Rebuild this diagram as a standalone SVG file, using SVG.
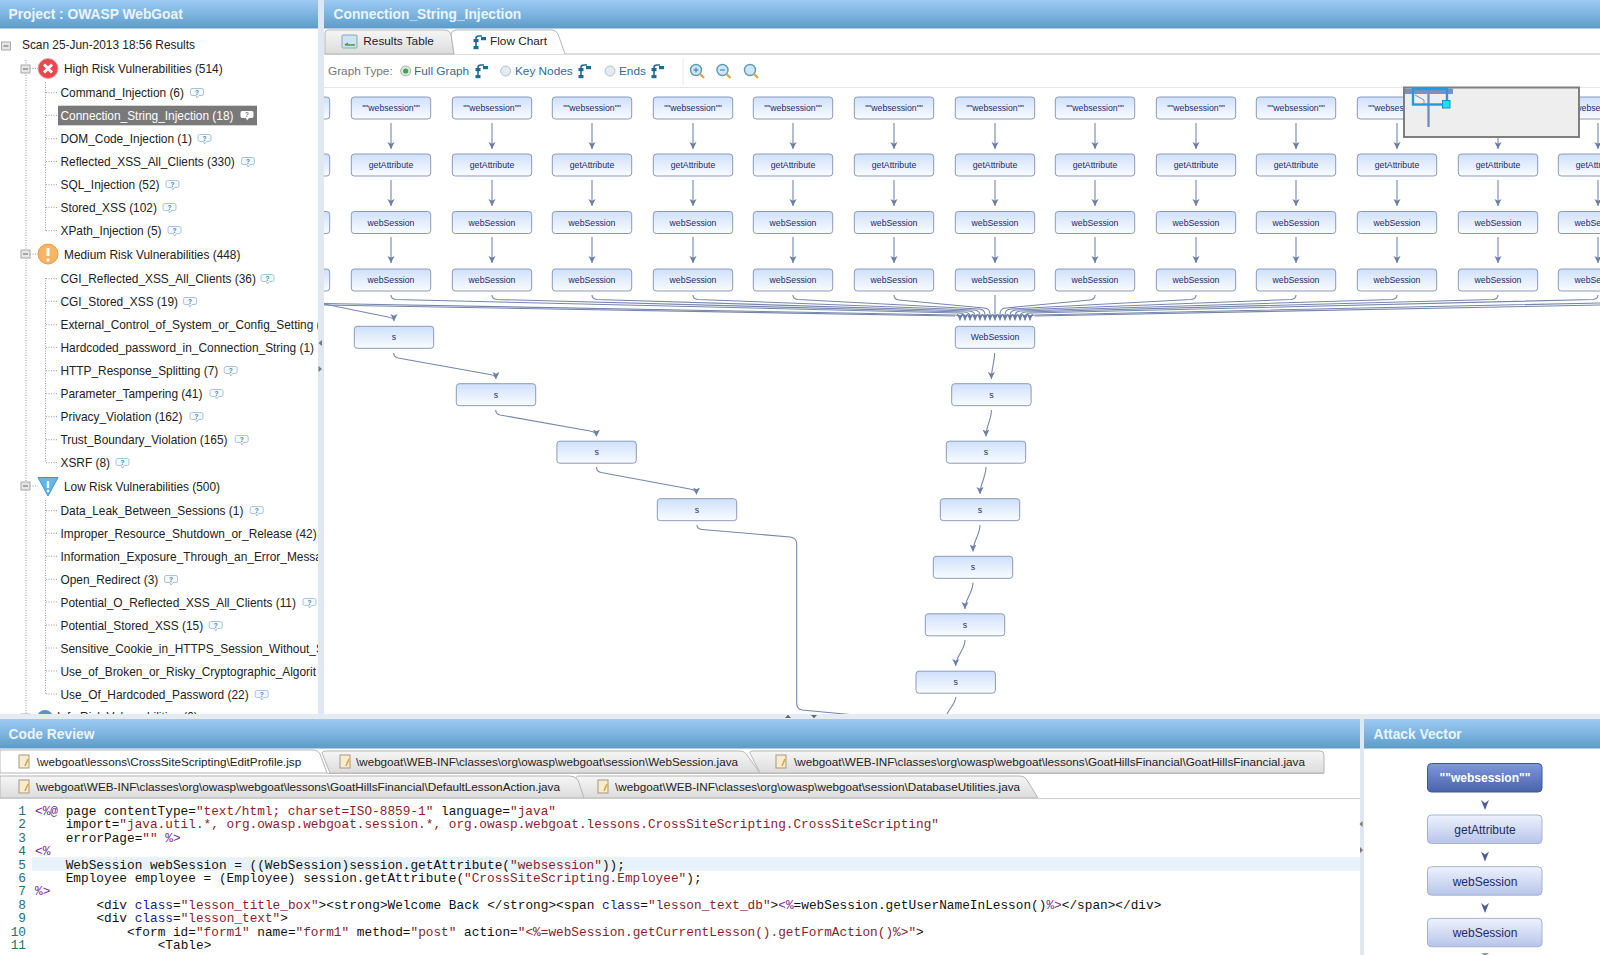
<svg xmlns="http://www.w3.org/2000/svg" width="1600" height="955" viewBox="0 0 1600 955">
<style>
text{font-family:"Liberation Sans",Arial,sans-serif}
.hd{font-size:13.8px;font-weight:bold;fill:#eaf3fb}
.t{font-size:11.88px;fill:#222}
.n{font-size:8.7px;fill:#1f2a66;text-anchor:middle}
.box{fill:url(#ng);stroke:#8a9ab8;stroke-width:1}
.c{fill:none;stroke:#7687ac;stroke-width:1.1}
.a{marker-end:url(#ah)}
.d{fill:none;stroke:#999;stroke-width:1;stroke-dasharray:1 1.5}
.tb{font-size:11.8px;fill:#2f6b9e}
.ln{font-family:"Liberation Mono",monospace;font-size:12.8px;fill:#1d6f78;text-anchor:end}
.k{font-family:"Liberation Mono",monospace;font-size:12.78px;fill:#111}
.s{fill:#8c1c2c}.p{fill:#7b2a90}.g{fill:#1a1a8c}
.ft{font-size:11px;fill:#222}
.av{fill:url(#avg);stroke:#a4b2d2}
.avt{font-size:12px;fill:#1f2a66;text-anchor:middle}
.tab{fill:url(#tg);stroke:#b5b5b5}
</style>
<defs>
<linearGradient id="hg" x1="0" y1="0" x2="0" y2="1"><stop offset="0" stop-color="#9ccbf3"/><stop offset=".5" stop-color="#7db4e0"/><stop offset="1" stop-color="#5c9bc8"/></linearGradient>
<linearGradient id="ng" x1="0" y1="0" x2="0" y2="1"><stop offset="0" stop-color="#cfe0fb"/><stop offset="1" stop-color="#fafcff"/></linearGradient>
<linearGradient id="avg" x1="0" y1="0" x2="0" y2="1"><stop offset="0" stop-color="#eef2fd"/><stop offset="1" stop-color="#b7c5ea"/></linearGradient>
<linearGradient id="avd" x1="0" y1="0" x2="0" y2="1"><stop offset="0" stop-color="#7f98dc"/><stop offset="1" stop-color="#4a62aa"/></linearGradient>
<linearGradient id="tg" x1="0" y1="0" x2="0" y2="1"><stop offset="0" stop-color="#f6f6f6"/><stop offset="1" stop-color="#dcdcdc"/></linearGradient>
<marker id="ah" markerUnits="userSpaceOnUse" markerWidth="8" markerHeight="8" refX="7" refY="4" orient="auto"><path d="M0,0.5 L7,4 L0,7.5 L1.8,4 Z" fill="#6c7da6"/></marker>
<rect id="box" class="box" x="-39.7" y="0" width="79.4" height="22" rx="3"/>
<g id="help"><path d="M-5,-4 H5 Q6.5,-4 6.5,-2 V1 Q6.5,3 5,3 H2 L0,5.5 L-1,3 H-5 Q-6.5,3 -6.5,1 V-2 Q-6.5,-4 -5,-4 Z" fill="#f4f9fd" stroke="#a9c3da" stroke-width="1"/><text x="0" y="2" font-size="6.5" font-weight="bold" fill="#3f7fb5" text-anchor="middle">?</text></g>
<g id="hw"><path d="M-5,-4 H5 Q6.5,-4 6.5,-2 V1 Q6.5,3 5,3 H2 L0,5.5 L-1,3 H-5 Q-6.5,3 -6.5,1 V-2 Q-6.5,-4 -5,-4 Z" fill="#fff"/><text x="0" y="2" font-size="6.5" font-weight="bold" fill="#777" text-anchor="middle">?</text></g>
<g id="fl"><path d="M-3,7 V-3.5 Q-3,-6 0,-6 H3" fill="none" stroke="#1b6b97" stroke-width="1.6"/><rect x="-5.5" y="-3" width="5" height="3.2" fill="#1b6b97"/><rect x="-5.5" y="4" width="5" height="3.2" fill="#1b6b97"/><rect x="2" y="-5" width="5" height="3.2" fill="#1b6b97"/></g>
<g id="mag"><circle r="5.5" fill="#cfe6f7" stroke="#5e9bb0" stroke-width="1.4"/><path d="M4,4 L8,8" stroke="#e3a64a" stroke-width="2.4"/></g>
<g id="doc"><rect x="0" y="0" width="10" height="13" fill="#f5ecd2" stroke="#a79a7d"/><path d="M6,11 L9,4" stroke="#e0a23c" stroke-width="1.6"/></g>
<g id="mn"><rect x="-4.5" y="-4" width="9" height="8" fill="#e6e6e6" stroke="#aaa"/><path d="M-2.5,0 H2.5" stroke="#666"/></g>
<clipPath id="gc"><rect x="324" y="88" width="1276" height="626"/></clipPath>
<clipPath id="tc"><rect x="0" y="29" width="318" height="685"/></clipPath>
<clipPath id="cc"><rect x="0" y="799" width="1360" height="156"/></clipPath>
</defs>

<rect width="1600" height="955" fill="#fff"/>

<g id="left-panel">
<rect x="0" y="0" width="318" height="28.5" fill="url(#hg)"/>
<text class="hd" x="8.5" y="19">Project : OWASP WebGoat</text>
<rect x="318" y="0" width="6" height="714" fill="#dfe7f0"/>
<path d="M322,340 L318.5,343 L322,346 Z M318.5,366 L322,369 L318.5,372 Z" fill="#777"/>
</g>

<g id="tree" clip-path="url(#tc)">
<path class="d" d="M26,46 H30 M26,60 V714 M30,68.5 H38 M30,254 H38 M30,486 H38"/>
<path class="d" d="M45.5,82 V230.7 M45.5,278 V462.7 M45.5,500 V694"/>
<path class="d" d="M46,92.7 H57 M46,115.3 H57 M46,138.7 H57 M46,161.5 H57 M46,184.7 H57 M46,207.3 H57 M46,230.7 H57 M46,278.7 H57 M46,301.3 H57 M46,324.7 H57 M46,347.3 H57 M46,370.7 H57 M46,393.7 H57 M46,416.7 H57 M46,439.7 H57 M46,462.7 H57 M46,510.7 H57 M46,533.3 H57 M46,556.3 H57 M46,579.3 H57 M46,602 H57 M46,625 H57 M46,648 H57 M46,671 H57 M46,694 H57"/>
<use href="#mn" x="6" y="46"/><use href="#mn" x="25.5" y="69"/><use href="#mn" x="25.5" y="254"/><use href="#mn" x="25.5" y="486"/>
<text class="t" x="22" y="49">Scan 25-Jun-2013 18:56 Results</text>
<g id="icon-high"><circle cx="48" cy="68.5" r="10" fill="#e5484d" stroke="#f0a0a0"/><path d="M44,64.5 L52,72.5 M52,64.5 L44,72.5" stroke="#fff" stroke-width="3"/></g>
<text class="t" x="64" y="73">High Risk Vulnerabilities (514)</text>
<text class="t" x="60.5" y="97">Command_Injection (6)</text><use href="#help" x="197" y="92.5"/>
<rect x="58" y="105.7" width="199" height="19.6" fill="#797979"/>
<text class="t" x="60.5" y="119.6" style="fill:#fff">Connection_String_Injection (18)</text><use href="#hw" x="247" y="115"/>
<text class="t" x="60.5" y="143">DOM_Code_Injection (1)</text><use href="#help" x="204.5" y="138.5"/>
<text class="t" x="60.5" y="166">Reflected_XSS_All_Clients (330)</text><use href="#help" x="248" y="161.5"/>
<text class="t" x="60.5" y="189">SQL_Injection (52)</text><use href="#help" x="172.5" y="184.5"/>
<text class="t" x="60.5" y="212">Stored_XSS (102)</text><use href="#help" x="169.5" y="207.5"/>
<text class="t" x="60.5" y="235">XPath_Injection (5)</text><use href="#help" x="174.5" y="230.5"/>
<g id="icon-med"><circle cx="48" cy="254" r="10" fill="#f5b565" stroke="#e89a3c"/><path d="M48,248 V256" stroke="#fff" stroke-width="3"/><circle cx="48" cy="260" r="1.6" fill="#fff"/></g>
<text class="t" x="64" y="258.5">Medium Risk Vulnerabilities (448)</text>
<text class="t" x="60.5" y="283">CGI_Reflected_XSS_All_Clients (36)</text><use href="#help" x="267.5" y="278.5"/>
<text class="t" x="60.5" y="306">CGI_Stored_XSS (19)</text><use href="#help" x="190" y="301.5"/>
<text class="t" x="60.5" y="329">External_Control_of_System_or_Config_Setting (</text>
<text class="t" x="60.5" y="352">Hardcoded_password_in_Connection_String (1)</text>
<text class="t" x="60.5" y="375">HTTP_Response_Splitting (7)</text><use href="#help" x="230.7" y="370.5"/>
<text class="t" x="60.5" y="398">Parameter_Tampering (41)</text><use href="#help" x="216.5" y="393.5"/>
<text class="t" x="60.5" y="421">Privacy_Violation (162)</text><use href="#help" x="196.5" y="416.5"/>
<text class="t" x="60.5" y="444">Trust_Boundary_Violation (165)</text><use href="#help" x="241.7" y="439.5"/>
<text class="t" x="60.5" y="467">XSRF (8)</text><use href="#help" x="122.5" y="462.5"/>
<g id="icon-low"><path d="M38,477.5 H58 L48,496 Z" fill="#5fb8e8" stroke="#3d97cf" stroke-linejoin="round"/><path d="M48,481 V488" stroke="#fff" stroke-width="2.4"/><circle cx="48" cy="491" r="1.2" fill="#fff"/></g>
<text class="t" x="64" y="491">Low Risk Vulnerabilities (500)</text>
<text class="t" x="60.5" y="515">Data_Leak_Between_Sessions (1)</text><use href="#help" x="256.7" y="510.5"/>
<text class="t" x="60.5" y="538">Improper_Resource_Shutdown_or_Release (42)</text>
<text class="t" x="60.5" y="561">Information_Exposure_Through_an_Error_Messa</text>
<text class="t" x="60.5" y="584">Open_Redirect (3)</text><use href="#help" x="171" y="579.5"/>
<text class="t" x="60.5" y="607">Potential_O_Reflected_XSS_All_Clients (11)</text><use href="#help" x="309.5" y="602.5"/>
<text class="t" x="60.5" y="630">Potential_Stored_XSS (15)</text><use href="#help" x="215.7" y="625.5"/>
<text class="t" x="60.5" y="653">Sensitive_Cookie_in_HTTPS_Session_Without_S</text>
<text class="t" x="60.5" y="676">Use_of_Broken_or_Risky_Cryptographic_Algorit</text>
<text class="t" x="60.5" y="699">Use_Of_Hardcoded_Password (22)</text><use href="#help" x="261.7" y="694.5"/>
<circle cx="45" cy="718" r="8" fill="#5f8fc8"/>
<text class="t" x="57" y="721">Info Risk Vulnerabilities (0)</text>
<use href="#mn" x="25.5" y="718"/>
</g>

<g id="main-header">
<rect x="324" y="0" width="1276" height="28.5" fill="url(#hg)"/>
<text class="hd" x="333.5" y="19">Connection_String_Injection</text>
<path d="M324,54 H1600" stroke="#bbb"/>
<path class="tab" d="M325,54 V33 Q325,30 328,30 H445 Q449,30 451,34 L454,54 Z"/>
<rect x="342" y="35" width="15" height="13" rx="1" fill="#cfe3f2" stroke="#8aa"/><path d="M345,45 H355 M345,45 L348,43" stroke="#4a9a4a" stroke-width="1.5"/>
<text x="363.3" y="45" font-size="11.8" fill="#222">Results Table</text>
<path d="M454,54 L451,34 Q452,30 456,30 H552 Q556,30 558,34 L565,54" fill="#fff" stroke="#b5b5b5"/>
<use href="#fl" x="479" y="42"/>
<text x="490" y="45" font-size="11.8" fill="#222">Flow Chart</text>
<path d="M324,87.5 H1600" stroke="#e4e4e4"/>
<path d="M683,59 V85" stroke="#e6e6e6"/>
<text x="328" y="75" font-size="11.8" fill="#777">Graph Type:</text>
<circle cx="405.7" cy="71" r="5" fill="#dfe8e0" stroke="#9fb3a4"/><circle cx="405.7" cy="71" r="2.6" fill="#3aa24a"/>
<text class="tb" x="414" y="75">Full Graph</text><use href="#fl" x="481" y="71"/>
<circle cx="505.7" cy="71" r="5" fill="#e4ebf2" stroke="#b4c2d0"/>
<text class="tb" x="515" y="75">Key Nodes</text><use href="#fl" x="584" y="71"/>
<circle cx="610" cy="71" r="5" fill="#e4ebf2" stroke="#b4c2d0"/>
<text class="tb" x="619" y="75">Ends</text><use href="#fl" x="657" y="71"/>
<use href="#mag" x="696" y="70"/><path d="M693.5,70 H698.5 M696,67.5 V72.5" stroke="#2a7aa8"/>
<use href="#mag" x="722.5" y="70"/><path d="M720,70 H725" stroke="#2a7aa8"/>
<use href="#mag" x="750" y="70"/>
</g>

<g id="connectors" clip-path="url(#gc)">
<path class="c a" d="M391,123 V149"/><path class="c a" d="M492,123 V149"/><path class="c a" d="M592,123 V149"/><path class="c a" d="M693,123 V149"/><path class="c a" d="M793,123 V149"/><path class="c a" d="M894,123 V149"/><path class="c a" d="M995,123 V149"/><path class="c a" d="M1095,123 V149"/><path class="c a" d="M1196,123 V149"/><path class="c a" d="M1296,123 V149"/><path class="c a" d="M1397,123 V149"/><path class="c a" d="M1498,123 V149"/><path class="c a" d="M1598,123 V149"/>
<path class="c a" d="M391,180 V206"/><path class="c a" d="M492,180 V206"/><path class="c a" d="M592,180 V206"/><path class="c a" d="M693,180 V206"/><path class="c a" d="M793,180 V206"/><path class="c a" d="M894,180 V206"/><path class="c a" d="M995,180 V206"/><path class="c a" d="M1095,180 V206"/><path class="c a" d="M1196,180 V206"/><path class="c a" d="M1296,180 V206"/><path class="c a" d="M1397,180 V206"/><path class="c a" d="M1498,180 V206"/><path class="c a" d="M1598,180 V206"/>
<path class="c a" d="M391,237 V263"/><path class="c a" d="M492,237 V263"/><path class="c a" d="M592,237 V263"/><path class="c a" d="M693,237 V263"/><path class="c a" d="M793,237 V263"/><path class="c a" d="M894,237 V263"/><path class="c a" d="M995,237 V263"/><path class="c a" d="M1095,237 V263"/><path class="c a" d="M1196,237 V263"/><path class="c a" d="M1296,237 V263"/><path class="c a" d="M1397,237 V263"/><path class="c a" d="M1498,237 V263"/><path class="c a" d="M1598,237 V263"/>
<path class="c a" d="M324,303.5 L954,315 Q960,315.2 960,318 V320.5"/>
<path class="c" d="M324,305 L955,316"/>
<path class="c a" d="M391,295 Q391,299 396,299.5 L959,313 Q965,313.3 965,317 V320.5"/>
<path class="c a" d="M492,295 Q492,299 497,299.5 L964,312 Q970,312.3 970,316.5 V320.5"/>
<path class="c a" d="M592,295 Q592,299 597,299.5 L969,311 Q975,311.3 975,316 V320.5"/>
<path class="c a" d="M693,295 Q693,299 698,299.5 L974,310 Q980,310.3 980,315.5 V320.5"/>
<path class="c a" d="M793,295 Q793,299 798,299.5 L979,309 Q985,309.3 985,315 V320.5"/>
<path class="c a" d="M894,295 Q894,299.5 899,300 L984,308 Q990,308.5 990,314 V320.5"/>
<path class="c a" d="M995,295 V320.5"/>
<path class="c a" d="M1095,295 Q1095,299.5 1090,300 L1006,308 Q1000,308.5 1000,314 V320.5"/>
<path class="c a" d="M1196,295 Q1196,299 1191,299.5 L1011,309 Q1005,309.3 1005,315 V320.5"/>
<path class="c a" d="M1296,295 Q1296,299 1291,299.5 L1016,310 Q1010,310.3 1010,315.5 V320.5"/>
<path class="c a" d="M1397,295 Q1397,299 1392,299.5 L1021,311 Q1015,311.3 1015,316 V320.5"/>
<path class="c a" d="M1498,295 Q1498,299 1493,299.5 L1026,312 Q1020,312.3 1020,316.5 V320.5"/>
<path class="c a" d="M1598,295 Q1598,299 1593,299.5 L1031,313 Q1025,313.3 1025,317 V320.5"/>
<path class="c a" d="M1600,303 L1036,315 Q1030,315.2 1030,318 V320.5"/>
<path class="c" d="M1600,305 L1035,316"/>
<path class="c a" d="M324,304 L388,317 Q394,318 394,321"/>
<path class="c a" d="M393.7,353 Q393.7,357 398,358 L490,374.5 Q496,375.5 496,379"/>
<path class="c a" d="M495.7,410 Q495.7,414 500,415 L590,431 Q596.5,432 596.5,436.5"/>
<path class="c a" d="M596.5,467 Q596.5,471.5 601,472.5 L690,489 Q696.5,490 696.5,494.5"/>
<path class="c" d="M697,525 Q697,529 702,529.5 L790,537 Q796.7,538 796.7,544 V703 Q796.7,709 802,710 L850,714.5"/>
<path class="c a" d="M994.6,353 C994.6,362 991.4,368 991.4,379"/>
<path class="c a" d="M991.4,410 C991.4,420 986,426 986,436.5"/>
<path class="c a" d="M986,467 C986,477 980,484 980,494"/>
<path class="c a" d="M980,525 C980,535 973,541 973,551.5"/>
<path class="c a" d="M973,582.5 C973,593 965,599 965,609"/>
<path class="c a" d="M965,640 C965,650 955.7,656 955.7,666"/>
<path class="c" d="M955.7,697 C955.7,703 950,708 947,714"/>
</g>

<g id="nodes" clip-path="url(#gc)">
<g id="n0-1"><use href="#box" x="290" y="97"/></g><g id="n0-2"><use href="#box" x="290" y="154"/></g><g id="n0-3"><use href="#box" x="290" y="211.5"/></g><g id="n0-4"><use href="#box" x="290" y="269"/></g>
<g id="n1-1" transform="translate(391,97)"><use href="#box"/><text class="n" y="14">""websession""</text></g>
<g id="n1-2" transform="translate(391,154)"><use href="#box"/><text class="n" y="14">getAttribute</text></g>
<g id="n1-3" transform="translate(391,211.5)"><use href="#box"/><text class="n" y="14">webSession</text></g>
<g id="n1-4" transform="translate(391,269)"><use href="#box"/><text class="n" y="14">webSession</text></g>
<g id="n2-1" transform="translate(492,97)"><use href="#box"/><text class="n" y="14">""websession""</text></g>
<g id="n2-2" transform="translate(492,154)"><use href="#box"/><text class="n" y="14">getAttribute</text></g>
<g id="n2-3" transform="translate(492,211.5)"><use href="#box"/><text class="n" y="14">webSession</text></g>
<g id="n2-4" transform="translate(492,269)"><use href="#box"/><text class="n" y="14">webSession</text></g>
<g id="n3-1" transform="translate(592,97)"><use href="#box"/><text class="n" y="14">""websession""</text></g>
<g id="n3-2" transform="translate(592,154)"><use href="#box"/><text class="n" y="14">getAttribute</text></g>
<g id="n3-3" transform="translate(592,211.5)"><use href="#box"/><text class="n" y="14">webSession</text></g>
<g id="n3-4" transform="translate(592,269)"><use href="#box"/><text class="n" y="14">webSession</text></g>
<g id="n4-1" transform="translate(693,97)"><use href="#box"/><text class="n" y="14">""websession""</text></g>
<g id="n4-2" transform="translate(693,154)"><use href="#box"/><text class="n" y="14">getAttribute</text></g>
<g id="n4-3" transform="translate(693,211.5)"><use href="#box"/><text class="n" y="14">webSession</text></g>
<g id="n4-4" transform="translate(693,269)"><use href="#box"/><text class="n" y="14">webSession</text></g>
<g id="n5-1" transform="translate(793,97)"><use href="#box"/><text class="n" y="14">""websession""</text></g>
<g id="n5-2" transform="translate(793,154)"><use href="#box"/><text class="n" y="14">getAttribute</text></g>
<g id="n5-3" transform="translate(793,211.5)"><use href="#box"/><text class="n" y="14">webSession</text></g>
<g id="n5-4" transform="translate(793,269)"><use href="#box"/><text class="n" y="14">webSession</text></g>
<g id="n6-1" transform="translate(894,97)"><use href="#box"/><text class="n" y="14">""websession""</text></g>
<g id="n6-2" transform="translate(894,154)"><use href="#box"/><text class="n" y="14">getAttribute</text></g>
<g id="n6-3" transform="translate(894,211.5)"><use href="#box"/><text class="n" y="14">webSession</text></g>
<g id="n6-4" transform="translate(894,269)"><use href="#box"/><text class="n" y="14">webSession</text></g>
<g id="n7-1" transform="translate(995,97)"><use href="#box"/><text class="n" y="14">""websession""</text></g>
<g id="n7-2" transform="translate(995,154)"><use href="#box"/><text class="n" y="14">getAttribute</text></g>
<g id="n7-3" transform="translate(995,211.5)"><use href="#box"/><text class="n" y="14">webSession</text></g>
<g id="n7-4" transform="translate(995,269)"><use href="#box"/><text class="n" y="14">webSession</text></g>
<g id="n8-1" transform="translate(1095,97)"><use href="#box"/><text class="n" y="14">""websession""</text></g>
<g id="n8-2" transform="translate(1095,154)"><use href="#box"/><text class="n" y="14">getAttribute</text></g>
<g id="n8-3" transform="translate(1095,211.5)"><use href="#box"/><text class="n" y="14">webSession</text></g>
<g id="n8-4" transform="translate(1095,269)"><use href="#box"/><text class="n" y="14">webSession</text></g>
<g id="n9-1" transform="translate(1196,97)"><use href="#box"/><text class="n" y="14">""websession""</text></g>
<g id="n9-2" transform="translate(1196,154)"><use href="#box"/><text class="n" y="14">getAttribute</text></g>
<g id="n9-3" transform="translate(1196,211.5)"><use href="#box"/><text class="n" y="14">webSession</text></g>
<g id="n9-4" transform="translate(1196,269)"><use href="#box"/><text class="n" y="14">webSession</text></g>
<g id="n10-1" transform="translate(1296,97)"><use href="#box"/><text class="n" y="14">""websession""</text></g>
<g id="n10-2" transform="translate(1296,154)"><use href="#box"/><text class="n" y="14">getAttribute</text></g>
<g id="n10-3" transform="translate(1296,211.5)"><use href="#box"/><text class="n" y="14">webSession</text></g>
<g id="n10-4" transform="translate(1296,269)"><use href="#box"/><text class="n" y="14">webSession</text></g>
<g id="n11-1" transform="translate(1397,97)"><use href="#box"/><text class="n" y="14">""websession""</text></g>
<g id="n11-2" transform="translate(1397,154)"><use href="#box"/><text class="n" y="14">getAttribute</text></g>
<g id="n11-3" transform="translate(1397,211.5)"><use href="#box"/><text class="n" y="14">webSession</text></g>
<g id="n11-4" transform="translate(1397,269)"><use href="#box"/><text class="n" y="14">webSession</text></g>
<g id="n12-1" transform="translate(1498,97)"><use href="#box"/><text class="n" y="14">""websession""</text></g>
<g id="n12-2" transform="translate(1498,154)"><use href="#box"/><text class="n" y="14">getAttribute</text></g>
<g id="n12-3" transform="translate(1498,211.5)"><use href="#box"/><text class="n" y="14">webSession</text></g>
<g id="n12-4" transform="translate(1498,269)"><use href="#box"/><text class="n" y="14">webSession</text></g>
<g id="n13-1" transform="translate(1598,97)"><use href="#box"/><text class="n" y="14">""websession""</text></g>
<g id="n13-2" transform="translate(1598,154)"><use href="#box"/><text class="n" y="14">getAttribute</text></g>
<g id="n13-3" transform="translate(1598,211.5)"><use href="#box"/><text class="n" y="14">webSession</text></g>
<g id="n13-4" transform="translate(1598,269)"><use href="#box"/><text class="n" y="14">webSession</text></g>
<g id="ws" transform="translate(995,326.3)"><use href="#box"/><text class="n" y="14">WebSession</text></g>
<g id="sl1" transform="translate(394,326.3)"><use href="#box"/><text class="n" y="14">s</text></g>
<g id="sl2" transform="translate(496,383.7)"><use href="#box"/><text class="n" y="14">s</text></g>
<g id="sl3" transform="translate(596.6,441.2)"><use href="#box"/><text class="n" y="14">s</text></g>
<g id="sl4" transform="translate(697,498.7)"><use href="#box"/><text class="n" y="14">s</text></g>
<g id="sr1" transform="translate(991.4,383.7)"><use href="#box"/><text class="n" y="14">s</text></g>
<g id="sr2" transform="translate(986,441.2)"><use href="#box"/><text class="n" y="14">s</text></g>
<g id="sr3" transform="translate(980,498.7)"><use href="#box"/><text class="n" y="14">s</text></g>
<g id="sr4" transform="translate(973,556.3)"><use href="#box"/><text class="n" y="14">s</text></g>
<g id="sr5" transform="translate(965,613.8)"><use href="#box"/><text class="n" y="14">s</text></g>
<g id="sr6" transform="translate(955.7,671.2)"><use href="#box"/><text class="n" y="14">s</text></g>
</g>

<g id="minimap">
<rect x="1404" y="87.5" width="175" height="49.5" fill="#eee" stroke="#7f7f7f" stroke-width="2"/>
<rect x="1405" y="88.5" width="48" height="5.5" fill="#7b90c0"/>
<path d="M1428.5,94 V127" stroke="#7a8fb8" stroke-width="2.4"/>
<path d="M1415,95 L1424,100 V104" fill="none" stroke="#8090b4"/>
<rect x="1413" y="89" width="34" height="15.5" fill="none" stroke="#1e9be8" stroke-width="2.4"/>
<rect x="1442.5" y="100.5" width="7.5" height="7.5" fill="#19e0f5" stroke="#1e88d0"/>
</g>

<g id="dividers">
<rect x="0" y="714" width="1600" height="5" fill="#e6ebf1"/>
<path d="M785,718 L788,714.8 L791,718 Z M811,715 L814,718.2 L817,715 Z" fill="#666"/>
</g>

<g id="code-review">
<rect x="0" y="719" width="1360" height="29.5" fill="url(#hg)"/>
<text class="hd" x="8.5" y="739">Code Review</text>
<path class="tab" d="M322,753 Q322,751 326,751 H740 Q745,751 747,755 L760,773 H330 Z"/>
<path class="tab" d="M760,773 L750,753 Q749,751 753,751 H1320 Q1324,751 1324,755 V773 Z"/>
<path class="tab" d="M327,773 L320,754 Q318,750 314,750 H0 V773 Z" style="fill:#fff"/>
<path d="M327,773.5 H1324" stroke="#bbb"/>
<path class="tab" d="M582,798 L576,780 Q575,776 579,776 H1020 Q1025,776 1027,780 L1038,798 Z"/>
<path class="tab" d="M0,776 H570 Q575,776 578,780 L584,798 H0 Z"/>
<path d="M0,798.5 H1360" stroke="#ccc"/>
<use href="#doc" x="19" y="755"/><text class="ft" x="36.7" y="766" textLength="264.5" lengthAdjust="spacingAndGlyphs">\webgoat\lessons\CrossSiteScripting\EditProfile.jsp</text>
<use href="#doc" x="340" y="755"/><text class="ft" x="356" y="766" textLength="382" lengthAdjust="spacingAndGlyphs">\webgoat\WEB-INF\classes\org\owasp\webgoat\session\WebSession.java</text>
<use href="#doc" x="776" y="755"/><text class="ft" x="794" y="766" textLength="511" lengthAdjust="spacingAndGlyphs">\webgoat\WEB-INF\classes\org\owasp\webgoat\lessons\GoatHillsFinancial\GoatHillsFinancial.java</text>
<use href="#doc" x="19" y="780"/><text class="ft" x="36" y="791" textLength="524" lengthAdjust="spacingAndGlyphs">\webgoat\WEB-INF\classes\org\owasp\webgoat\lessons\GoatHillsFinancial\DefaultLessonAction.java</text>
<use href="#doc" x="598" y="780"/><text class="ft" x="615" y="791" textLength="405" lengthAdjust="spacingAndGlyphs">\webgoat\WEB-INF\classes\org\owasp\webgoat\session\DatabaseUtilities.java</text>
<g clip-path="url(#cc)">
<rect x="32" y="857.3" width="1328" height="13.4" fill="#e6f1f9"/>
<text class="ln" x="26" y="815">1</text><text class="ln" x="26" y="828.4">2</text><text class="ln" x="26" y="841.8">3</text><text class="ln" x="26" y="855.2">4</text><text class="ln" x="26" y="868.6">5</text><text class="ln" x="26" y="882">6</text><text class="ln" x="26" y="895.4">7</text><text class="ln" x="26" y="908.8">8</text><text class="ln" x="26" y="922.2">9</text><text class="ln" x="26" y="935.6">10</text><text class="ln" x="26" y="949">11</text>
<text class="k" x="35" y="815"><tspan class="p">&lt;%@</tspan> page contentType=<tspan class="s">"text/html; charset=ISO-8859-1"</tspan> language=<tspan class="s">"java"</tspan></text>
<text class="k" x="65.7" y="828.4">import=<tspan class="s">"java.util.*, org.owasp.webgoat.session.*, org.owasp.webgoat.lessons.CrossSiteScripting.CrossSiteScripting"</tspan></text>
<text class="k" x="65.7" y="841.8">errorPage=<tspan class="s">""</tspan> <tspan class="p">%&gt;</tspan></text>
<text class="k" x="35" y="855.2"><tspan class="p">&lt;%</tspan></text>
<text class="k" x="65.7" y="868.6">WebSession webSession = ((WebSession)session.getAttribute(<tspan class="s">"websession"</tspan>));</text>
<text class="k" x="65.7" y="882">Employee employee = (Employee) session.getAttribute(<tspan class="s">"CrossSiteScripting.Employee"</tspan>);</text>
<text class="k" x="35" y="895.4"><tspan class="p">%&gt;</tspan></text>
<text class="k" x="96.4" y="908.8">&lt;div <tspan class="g">class</tspan>=<tspan class="s">"lesson_title_box"</tspan>&gt;&lt;strong&gt;Welcome Back &lt;/strong&gt;&lt;span <tspan class="g">class</tspan>=<tspan class="s">"lesson_text_db"</tspan>&gt;<tspan class="p">&lt;%</tspan>=webSession.getUserNameInLesson()<tspan class="p">%&gt;</tspan>&lt;/span&gt;&lt;/div&gt;</text>
<text class="k" x="96.4" y="922.2">&lt;div <tspan class="g">class</tspan>=<tspan class="s">"lesson_text"</tspan>&gt;</text>
<text class="k" x="127" y="935.6">&lt;form id=<tspan class="s">"form1"</tspan> name=<tspan class="s">"form1"</tspan> method=<tspan class="s">"post"</tspan> action=<tspan class="s">"&lt;%=webSession.getCurrentLesson().getFormAction()%&gt;"</tspan>&gt;</text>
<text class="k" x="157.7" y="949">&lt;Table&gt;</text>
</g>
</g>

<rect x="1360" y="719" width="4" height="236" fill="#dfe7f0"/>
<path d="M1362.5,821 L1359.5,824 L1362.5,827 Z M1360,847 L1363,850 L1360,853 Z" fill="#777"/>

<g id="attack-vector">
<rect x="1364" y="719" width="236" height="29.5" fill="url(#hg)"/>
<text class="hd" x="1373.5" y="739">Attack Vector</text>
<g id="av1"><rect x="1427.5" y="763.5" width="114.5" height="28.5" rx="4" fill="url(#avd)" stroke="#3f56a0"/><text class="avt" x="1485" y="782" font-weight="bold" style="fill:#fff">""websession""</text></g>
<path d="M1481,800 L1485,803 L1489,800 L1485,810 Z" fill="#4b5f94"/>
<g id="av2"><rect class="av" x="1427.5" y="815" width="114.5" height="28.5" rx="4"/><text class="avt" x="1485" y="834">getAttribute</text></g>
<path d="M1481,851.5 L1485,854.5 L1489,851.5 L1485,861.5 Z" fill="#4b5f94"/>
<g id="av3"><rect class="av" x="1427.5" y="866.7" width="114.5" height="28.5" rx="4"/><text class="avt" x="1485" y="885.5">webSession</text></g>
<path d="M1481,903 L1485,906 L1489,903 L1485,913 Z" fill="#4b5f94"/>
<g id="av4"><rect class="av" x="1427.5" y="918.3" width="114.5" height="28.5" rx="4"/><text class="avt" x="1485" y="937">webSession</text></g>
<path d="M1481,953 L1485,956 L1489,953 Z" fill="#8a96b4"/>
</g>
</svg>
